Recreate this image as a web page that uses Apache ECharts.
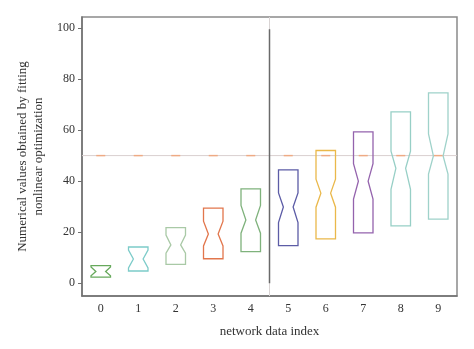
<!DOCTYPE html>
<html>
<head>
<meta charset="utf-8">
<script src="https://cdn.jsdelivr.net/npm/echarts@6/dist/echarts.min.js"></script>
<style>html,body{margin:0;padding:0;background:#fff;}#chart{width:474px;height:349px;}</style>
</head>
<body>
<div id="chart"></div>
<script>
const categories = ['0','1','2','3','4','5','6','7','8','9'];
const q1        = [2.4, 4.8, 7.4, 9.6, 12.4, 14.7, 17.4, 19.7, 22.5, 25.1];
const notchLow  = [2.9, 6.0, 11.8, 14.6, 19.6, 23.8, 29.8, 33.0, 36.8, 42.8];
const median    = [4.6, 9.5, 15.0, 19.3, 24.8, 29.9, 35.3, 40.0, 45.0, 49.9];
const notchHigh = [6.4, 13.0, 18.9, 24.3, 30.5, 35.4, 40.8, 46.8, 51.7, 58.5];
const q3        = [6.9, 14.2, 21.8, 29.4, 37.0, 44.4, 52.0, 59.3, 67.1, 74.6];
const referenceValue = [50, 50, 50, 50, 50, 50, 50, 50, 50, 50];
const separatorRange = [0, 99.5];
const separatorAfter = [4, 5];
const yTicks = [0, 20, 40, 60, 80, 100];
const boxColors = ['#67a95c','#7ccbc9','#a9c9a6','#e2764c','#7fb27c','#5c5ca6','#eab84a','#9463ad','#97cfc6','#9fd2ca'];

const chart = echarts.init(document.getElementById('chart'), null, {renderer:'canvas'});
const font = 'Liberation Serif';

const boxData = categories.map((c, i) => [i, q1[i], notchLow[i], median[i], notchHigh[i], q3[i]]);

const option = {
  animation: false,
  backgroundColor: '#fff',
  grid: {left: 82, right: 17, top: 17, bottom: 53, show: true, borderColor: '#8a8a8a', borderWidth: 1.5, backgroundColor: 'transparent'},
  xAxis: {
    type: 'category', data: categories, boundaryGap: true,
    name: 'network data index', nameLocation: 'middle', nameGap: 29,
    nameTextStyle: {fontFamily: font, fontSize: 13, color: '#333'},
    axisLine: {onZero: false, lineStyle: {color: '#707070', width: 1.5}},
    axisTick: {alignWithLabel: true, length: 4, lineStyle: {color: '#707070'}},
    axisLabel: {fontFamily: font, fontSize: 12, color: '#333', margin: 7},
    splitLine: {show: false}
  },
  yAxis: {
    type: 'value', min: -5, max: 104.3,
    name: 'Numerical values obtained by fitting\nnonlinear optimization',
    nameLocation: 'middle', nameGap: 35, nameRotate: 90,
    nameTextStyle: {fontFamily: font, fontSize: 13, color: '#333', lineHeight: 16, align: 'center'},
    axisLine: {show: true, onZero: false, lineStyle: {color: '#707070', width: 1.5}},
    axisTick: {show: true, length: 4, customValues: yTicks, lineStyle: {color: '#707070'}},
    axisLabel: {customValues: yTicks, fontFamily: font, fontSize: 12, color: '#333', margin: 7},
    splitLine: {show: false}
  },
  series: [
    {
      type: 'custom', z: 1, silent: true,
      data: [[separatorAfter[0], separatorAfter[1], referenceValue[0]]],
      renderItem: function (params, api) {
        const cs = params.coordSys;
        const xa = api.coord([api.value(0), 0])[0];
        const xb = api.coord([api.value(1), 0])[0];
        const xm = (xa + xb) / 2;
        const yr = api.coord([0, api.value(2)])[1];
        return {type: 'group', children: [
          {type: 'line', shape: {x1: cs.x, y1: yr, x2: cs.x + cs.width, y2: yr}, style: {stroke: '#d9cfcf', lineWidth: 1}},
          {type: 'line', shape: {x1: xm, y1: cs.y, x2: xm, y2: cs.y + cs.height}, style: {stroke: '#d9d4d4', lineWidth: 1}}
        ]};
      }
    },
    {
      type: 'custom', z: 3, silent: true,
      data: [[separatorAfter[0], separatorAfter[1], separatorRange[0], separatorRange[1]]],
      renderItem: function (params, api) {
        const xa = api.coord([api.value(0), 0])[0];
        const xb = api.coord([api.value(1), 0])[0];
        const xm = (xa + xb) / 2;
        const y0 = api.coord([0, api.value(2)])[1];
        const y1 = api.coord([0, api.value(3)])[1];
        return {type: 'line', shape: {x1: xm, y1: y0, x2: xm, y2: y1}, style: {stroke: '#6a6a6a', lineWidth: 1.5}};
      }
    },
    {
      type: 'scatter', z: 4, silent: true,
      symbol: 'rect', symbolSize: [9, 1.5],
      itemStyle: {color: '#f2a070'},
      data: referenceValue.map((v, i) => [i, v])
    },
    {
      type: 'custom', z: 5, silent: true,
      encode: {x: 0, y: [1, 2, 3, 4, 5]},
      data: boxData,
      renderItem: function (params, api) {
        const i = api.value(0);
        const bw = api.size([1, 0])[0] * 0.52;
        const half = bw / 2;
        const inset = half / 2;
        const x = api.coord([i, 0])[0];
        const y = v => api.coord([i, v])[1];
        const L = x - half, R = x + half;
        const points = [
          [L, y(api.value(5))], [R, y(api.value(5))],
          [R, y(api.value(4))], [R - inset, y(api.value(3))], [R, y(api.value(2))],
          [R, y(api.value(1))], [L, y(api.value(1))],
          [L, y(api.value(2))], [L + inset, y(api.value(3))], [L, y(api.value(4))]
        ];
        return {type: 'polygon', shape: {points: points}, style: {fill: 'none', stroke: boxColors[i], lineWidth: 1.3}};
      }
    }
  ]
};
chart.setOption(option);
</script>
</body>
</html>
